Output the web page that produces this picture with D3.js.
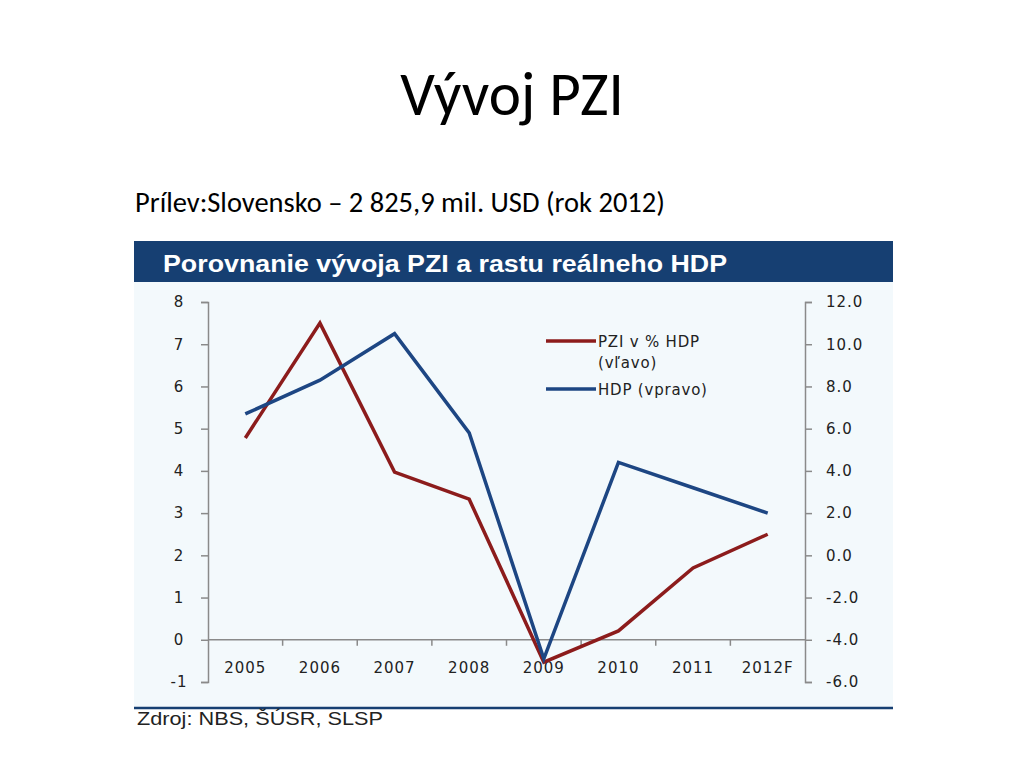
<!DOCTYPE html>
<html>
<head>
<meta charset="utf-8">
<script src="https://cdn.jsdelivr.net/npm/d3@7"></script>
<style>
  body { margin: 0; background: #fff; }
</style>
</head>
<body>
<div id="output"></div>
<script>
// data
const years = ["2005", "2006", "2007", "2008", "2009", "2010", "2011", "2012F"];
const pzi = [4.78, 7.5, 3.97, 3.33, -0.53, 0.21, 1.7, 2.5];   // PZI v % HDP (left)
const hdp = [6.7, 8.3, 10.5, 5.8, -4.9, 4.4, 3.2, 2.0];      // HDP (right)
const leftTicks = [-1, 0, 1, 2, 3, 4, 5, 6, 7, 8];
const rightTicks = [-6, -4, -2, 0, 2, 4, 6, 8, 10, 12];

const width = 1024, height = 768;
const svg = d3.create("svg")
  .attr("width", width)
  .attr("height", height)
  .attr("viewBox", [0, 0, width, height]);

// slide title + subtitle
svg.append("text")
  .attr("x", 512).attr("y", 115)
  .attr("text-anchor", "middle")
  .attr("font-family", "Carlito, Lato, sans-serif")
  .attr("font-size", 61)
  .text("Vývoj PZI");

svg.append("text")
  .attr("x", 135).attr("y", 212)
  .attr("font-family", "Carlito, Lato, sans-serif")
  .attr("font-size", 28.5)
  .text("Prílev:Slovensko – 2 825,9 mil. USD (rok 2012)");

// chart box
const box = { x: 134, y: 241, w: 759, h: 467 };
svg.append("rect")
  .attr("x", box.x).attr("y", box.y)
  .attr("width", box.w).attr("height", box.h)
  .attr("fill", "#f3f9fc");
svg.append("rect")
  .attr("x", box.x).attr("y", box.y)
  .attr("width", box.w).attr("height", 41)
  .attr("fill", "#163f72");
svg.append("text")
  .attr("x", 163).attr("y", 272)
  .attr("fill", "#fff")
  .attr("font-family", "Liberation Sans, Arial, sans-serif")
  .attr("font-weight", "bold")
  .attr("font-size", 23)
  .attr("textLength", 564)
  .attr("lengthAdjust", "spacingAndGlyphs")
  .text("Porovnanie vývoja PZI a rastu reálneho HDP");
svg.append("line")
  .attr("x1", box.x).attr("x2", box.x + box.w)
  .attr("y1", box.y + box.h).attr("y2", box.y + box.h)
  .attr("stroke", "#163f72").attr("stroke-width", 2.5);
svg.append("text")
  .attr("x", 137).attr("y", 725)
  .attr("font-family", "Liberation Sans, Arial, sans-serif")
  .attr("font-size", 19)
  .attr("textLength", 246)
  .attr("lengthAdjust", "spacingAndGlyphs")
  .attr("fill", "#222")
  .text("Zdroj: NBS, ŠÚSR, SLSP");

// scales
const x0 = 208, x1 = 805, yTop = 302, yBot = 682;
const x = d3.scaleBand().domain(years).range([x0, x1]);
const yL = d3.scaleLinear().domain([-1, 8]).range([yBot, yTop]);
const yR = d3.scaleLinear().domain([-6, 12]).range([yBot, yTop]);

const font = "DejaVu Sans, Verdana, sans-serif";
const fontSize = 15;
const axisColor = "#8a8a8a";
const hyphen = s => s.replace("−", "-");

function styleAxis(g) {
  g.selectAll("path, line").attr("stroke", axisColor).attr("stroke-width", 1.5);
  g.selectAll("text")
    .attr("font-family", font)
    .attr("font-size", fontSize)
    .attr("letter-spacing", 1)
    .attr("fill", "#222");
}

svg.append("g")
  .attr("transform", `translate(${x0},0)`)
  .call(d3.axisLeft(yL).tickValues(leftTicks).tickFormat(d => hyphen(d3.format("d")(d)))
    .tickSize(7).tickSizeOuter(7).tickPadding(18))
  .call(styleAxis)
  .call(g => g.selectAll("text").attr("text-anchor", "middle").attr("dx", "-4"));

svg.append("g")
  .attr("transform", `translate(${x1},0)`)
  .call(d3.axisRight(yR).tickValues(rightTicks).tickFormat(d => hyphen(d3.format(".1f")(d)))
    .tickSize(7).tickSizeOuter(7).tickPadding(14))
  .call(styleAxis);

// category axis at zero
const xAxis = svg.append("g")
  .attr("transform", `translate(0,${yL(0)})`);
xAxis.append("line")
  .attr("x1", x0).attr("x2", x1)
  .attr("stroke", axisColor).attr("stroke-width", 1.5);
xAxis.selectAll("line.tick")
  .data(years.slice(1))
  .join("line")
  .attr("class", "tick")
  .attr("x1", d => x(d)).attr("x2", d => x(d))
  .attr("y1", 0).attr("y2", 6)
  .attr("stroke", axisColor).attr("stroke-width", 1.5);
xAxis.selectAll("text")
  .data(years)
  .join("text")
  .attr("x", d => x(d) + x.bandwidth() / 2)
  .attr("y", 33)
  .attr("text-anchor", "middle")
  .attr("font-family", font)
  .attr("font-size", fontSize)
  .attr("letter-spacing", 1)
  .attr("fill", "#222")
  .text(d => d);

// lines
const cx = (d, i) => x(years[i]) + x.bandwidth() / 2;
const colorPzi = "#8c1c1c", colorHdp = "#1d4683";

svg.append("path")
  .datum(pzi)
  .attr("fill", "none")
  .attr("stroke", colorPzi)
  .attr("stroke-width", 3.5)
  .attr("stroke-linejoin", "miter")
  .attr("d", d3.line().x(cx).y(d => yL(d)));

svg.append("path")
  .datum(hdp)
  .attr("fill", "none")
  .attr("stroke", colorHdp)
  .attr("stroke-width", 3.5)
  .attr("stroke-linejoin", "miter")
  .attr("d", d3.line().x(cx).y(d => yR(d)));

// legend
const legend = svg.append("g")
  .attr("font-family", font)
  .attr("font-size", fontSize)
  .attr("letter-spacing", 0.8)
  .attr("fill", "#222");
legend.append("line")
  .attr("x1", 546).attr("x2", 596).attr("y1", 341).attr("y2", 341)
  .attr("stroke", colorPzi).attr("stroke-width", 3.5);
legend.append("text").attr("x", 598).attr("y", 347).text("PZI v % HDP");
legend.append("text").attr("x", 598).attr("y", 368).text("(vľavo)");
legend.append("line")
  .attr("x1", 546).attr("x2", 596).attr("y1", 389).attr("y2", 389)
  .attr("stroke", colorHdp).attr("stroke-width", 3.5);
legend.append("text").attr("x", 598).attr("y", 395).text("HDP (vpravo)");

document.getElementById("output").appendChild(svg.node());
</script>
</body>
</html>
